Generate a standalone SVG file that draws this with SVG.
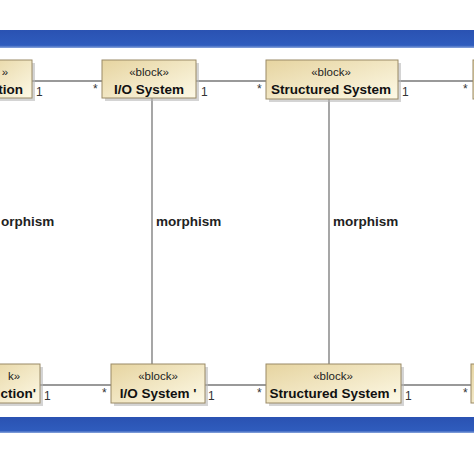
<svg xmlns="http://www.w3.org/2000/svg" width="474" height="474" viewBox="0 0 474 474">
<style>
.blk{fill:url(#g);stroke:#9a8a66;stroke-width:1}
.sh{fill:#b8b8b8;opacity:0.6}
.st{font-family:"Liberation Sans",Arial,sans-serif;font-size:11.5px;fill:#222;text-anchor:middle}
.nm{font-family:"Liberation Sans",Arial,sans-serif;font-size:13.5px;font-weight:bold;fill:#111;text-anchor:middle}
.ln{stroke:#777;stroke-width:1.3;fill:none}
.m{font-family:"Liberation Sans",Arial,sans-serif;font-size:12px;fill:#333}
.lb{font-family:"Liberation Sans",Arial,sans-serif;font-size:13.5px;font-weight:bold;fill:#222}
</style>
<defs>
<linearGradient id="g" x1="0" y1="0" x2="1" y2="1">
<stop offset="0" stop-color="#e6d4a0"/>
<stop offset="1" stop-color="#fdf9e6"/>
</linearGradient>
<linearGradient id="bar" x1="0" y1="0" x2="0" y2="1">
<stop offset="0" stop-color="#2a52b2"/>
<stop offset="0.85" stop-color="#2f5cbd"/>
<stop offset="1" stop-color="#8aa6dc"/>
</linearGradient>
</defs>
<rect width="474" height="474" fill="#fff"/>
<rect x="0" y="30" width="474" height="18" fill="url(#bar)"/>
<rect x="0" y="417" width="474" height="16" fill="url(#bar)"/>

<g id="connectors">
<line class="ln" x1="32" y1="81" x2="102" y2="81"/>
<line class="ln" x1="196" y1="81" x2="266" y2="81"/>
<line class="ln" x1="398" y1="81" x2="473" y2="81"/>
<line class="ln" x1="40" y1="385" x2="111" y2="385"/>
<line class="ln" x1="205" y1="385" x2="266" y2="385"/>
<line class="ln" x1="401" y1="385" x2="471" y2="385"/>
<line class="ln" x1="152" y1="98" x2="152" y2="364"/>
<line class="ln" x1="329" y1="99" x2="329" y2="364"/>
<text class="m" x="36" y="96">1</text>
<text class="m" x="93" y="93">*</text>
<text class="m" x="201" y="96">1</text>
<text class="m" x="257" y="93">*</text>
<text class="m" x="402" y="96">1</text>
<text class="m" x="463" y="93">*</text>
<text class="m" x="44" y="400">1</text>
<text class="m" x="102" y="397">*</text>
<text class="m" x="208" y="400">1</text>
<text class="m" x="257" y="397">*</text>
<text class="m" x="405" y="400">1</text>
<text class="m" x="463" y="397">*</text>
<text class="lb" x="1" y="226">orphism</text>
<text class="lb" x="156" y="226">morphism</text>
<text class="lb" x="333" y="226">morphism</text>
</g>

<g id="node-left-top">
<rect class="sh" x="-10" y="63" width="45" height="38"/>
<rect class="blk" x="-20" y="60" width="52" height="38"/>
<text class="st" x="5" y="76" text-anchor="end">»</text>
<text class="nm" x="23" y="94" style="text-anchor:end">ction</text>
</g>
<g id="node-io-top">
<rect class="sh" x="105" y="63" width="94" height="38"/>
<rect class="blk" x="102" y="60" width="94" height="38"/>
<text class="st" x="149" y="76">«block»</text>
<text class="nm" x="149" y="94">I/O System</text>
</g>
<g id="node-ss-top">
<rect class="sh" x="269" y="63" width="132" height="39"/>
<rect class="blk" x="266" y="60" width="132" height="39"/>
<text class="st" x="331" y="76">«block»</text>
<text class="nm" x="331" y="94">Structured System</text>
</g>
<g id="node-right-top">
<rect class="blk" x="473" y="60" width="20" height="39"/>
</g>

<g id="node-left-bottom">
<rect class="sh" x="-10" y="367" width="53" height="39"/>
<rect class="blk" x="-20" y="364" width="60" height="39"/>
<text class="st" x="14" y="380" text-anchor="end">k»</text>
<text class="nm" x="36" y="398" style="text-anchor:end">ction'</text>
</g>
<g id="node-io-bottom">
<rect class="sh" x="114" y="367" width="94" height="39"/>
<rect class="blk" x="111" y="364" width="94" height="39"/>
<text class="st" x="158" y="380">«block»</text>
<text class="nm" x="158" y="398">I/O System '</text>
</g>
<g id="node-ss-bottom">
<rect class="sh" x="269" y="367" width="135" height="39"/>
<rect class="blk" x="266" y="364" width="135" height="39"/>
<text class="st" x="333" y="380">«block»</text>
<text class="nm" x="333" y="398">Structured System '</text>
</g>
<g id="node-right-bottom">
<rect class="blk" x="471" y="364" width="20" height="39"/>
</g>
</svg>
